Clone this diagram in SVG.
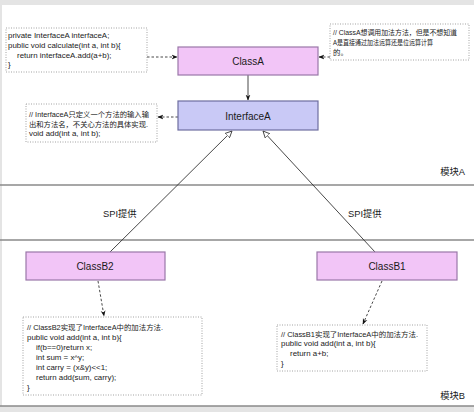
<svg xmlns="http://www.w3.org/2000/svg" width="474" height="412" viewBox="0 0 474 412">
<defs>
<style>
text{font-family:"Liberation Sans","Noto Sans CJK SC",sans-serif;fill:#1a1a1a}
.code{font-size:7.9px}
.cjk{font-size:7.4px}
.lbl{font-size:10px;text-anchor:middle;dominant-baseline:central}
.mod{font-size:9.3px}
.note{fill:#fff;stroke:#999;stroke-width:0.9;stroke-dasharray:1 1.5}
.cls{fill:#F2C5F7;stroke:#9A77A8;stroke-width:1.2}
.ifc{fill:#C9C9F6;stroke:#6E6EA0;stroke-width:1.2}
.sep{stroke:#8a8a8a;stroke-width:1.3}
.dash{fill:none;stroke:#333;stroke-width:0.9;stroke-dasharray:2.5 2}
.solid{fill:none;stroke:#333;stroke-width:0.9}
</style>
<marker id="ah" viewBox="0 0 10 10" refX="9" refY="5" markerWidth="6" markerHeight="6" orient="auto" markerUnits="userSpaceOnUse"><path d="M0,1 L10,5 L0,9 L3,5 z" fill="#111"/></marker>
<marker id="tri" viewBox="0 0 10 10" refX="9.5" refY="5" markerWidth="7" markerHeight="7" orient="auto" markerUnits="userSpaceOnUse"><path d="M0,0.5 L9.5,5 L0,9.5 z" fill="#fff" stroke="#333" stroke-width="1.2"/></marker>
</defs>
<rect x="0" y="0" width="474" height="412" fill="#fff"/>
<rect x="0" y="0" width="474" height="5" fill="#e4e4e4"/>
<rect x="0" y="406" width="474" height="6" fill="#e4e4e4"/>
<rect x="0" y="0" width="2" height="412" fill="#e4e4e4"/>
<g id="separators">
<line class="sep" x1="0" y1="185" x2="474" y2="185"/>
<line class="sep" x1="0" y1="240" x2="474" y2="240"/>
<line class="sep" x1="0" y1="406" x2="474" y2="406"/>
</g>
<g id="connectors">
<line class="dash" x1="147" y1="57" x2="177" y2="57" marker-end="url(#ah)"/>
<line class="dash" x1="330" y1="57" x2="319" y2="57" marker-end="url(#ah)"/>
<line class="solid" x1="248" y1="75" x2="248" y2="100" marker-end="url(#ah)"/>
<line class="dash" x1="178" y1="117" x2="158" y2="117" marker-end="url(#ah)"/>
<line class="solid" x1="110" y1="252" x2="232" y2="131" marker-end="url(#tri)"/>
<line class="solid" x1="375" y1="252" x2="263" y2="131" marker-end="url(#tri)"/>
<line class="dash" x1="98" y1="281" x2="104" y2="316" marker-end="url(#ah)"/>
<line class="dash" x1="382" y1="281" x2="363" y2="324" marker-end="url(#ah)"/>
<text class="mod" x="103" y="216.5">SPI提供</text>
<text class="mod" x="348" y="216.5">SPI提供</text>
</g>
<g id="note-classA-code">
<rect class="note" x="6" y="28" width="141" height="44"/>
<text class="code" x="8" y="38">private  InterfaceA interfaceA;</text>
<text class="code" x="8" y="48">public void calculate(int a, int b){</text>
<text class="code" x="17" y="57.5">return interfaceA.add(a+b);</text>
<text class="code" x="8" y="67">}</text>
</g>
<g id="note-classA-comment">
<rect class="note" x="330" y="24" width="139" height="36"/>
<text class="cjk" x="333" y="35" textLength="124" lengthAdjust="spacingAndGlyphs">// ClassA想调用加法方法，但是不想知道</text>
<text class="cjk" x="333" y="45" textLength="100" lengthAdjust="spacingAndGlyphs">A是直接通过加法运算还是位运算计算</text>
<text class="cjk" x="333" y="55">的。</text>
</g>
<g id="ClassA">
<rect class="cls" x="178" y="47" width="140" height="28"/>
<text class="lbl" x="248" y="61">ClassA</text>
</g>
<g id="InterfaceA">
<rect class="ifc" x="178" y="101" width="140" height="29"/>
<text class="lbl" x="248" y="116">InterfaceA</text>
</g>
<g id="note-interfaceA">
<rect class="note" x="26" y="104" width="131" height="38"/>
<text class="cjk" x="29" y="117" textLength="120" lengthAdjust="spacingAndGlyphs">// InterfaceA只定义一个方法的输入输</text>
<text class="cjk" x="29" y="127" textLength="119" lengthAdjust="spacingAndGlyphs">出和方法名，不关心方法的具体实现.</text>
<text class="code" x="29" y="136">void add(int a, int b);</text>
</g>
<g id="ClassB2">
<rect class="cls" x="26" y="252" width="139" height="28"/>
<text class="lbl" x="95" y="266">ClassB2</text>
</g>
<g id="ClassB1">
<rect class="cls" x="317" y="252" width="140" height="28"/>
<text class="lbl" x="387" y="266">ClassB1</text>
</g>
<g id="note-classB2">
<rect class="note" x="23" y="317" width="179" height="78"/>
<text class="cjk" x="27" y="330" textLength="136" lengthAdjust="spacingAndGlyphs">// ClassB2实现了InterfaceA中的加法方法.</text>
<text class="code" x="27" y="340">public void add(int a, int b){</text>
<text class="code" x="36" y="350">if(b==0)return x;</text>
<text class="code" x="36" y="360">int sum = x^y;</text>
<text class="code" x="36" y="370">int carry = (x&amp;y)&lt;&lt;1;</text>
<text class="code" x="36" y="380">return add(sum, carry);</text>
<text class="code" x="27" y="390">}</text>
</g>
<g id="note-classB1">
<rect class="note" x="277" y="325" width="150" height="46"/>
<text class="cjk" x="281" y="337" textLength="137" lengthAdjust="spacingAndGlyphs">// ClassB1实现了InterfaceA中的加法方法.</text>
<text class="code" x="281" y="346">public void add(int a, int b){</text>
<text class="code" x="290" y="356">return a+b;</text>
<text class="code" x="281" y="366">}</text>
</g>
<g id="modules">
<text class="mod" x="465" y="175" text-anchor="end">模块A</text>
<text class="mod" x="465" y="399" text-anchor="end">模块B</text>
</g>
</svg>
